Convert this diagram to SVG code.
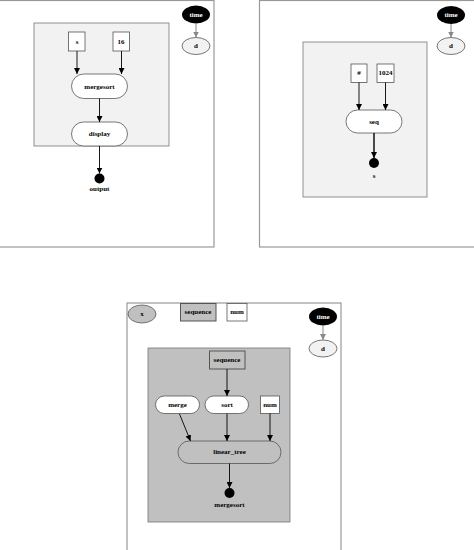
<svg xmlns="http://www.w3.org/2000/svg" width="474" height="550" viewBox="0 0 474 550">
<defs>
<marker id="ah" viewBox="0 0 10 10" refX="10" refY="5" markerWidth="6" markerHeight="6" orient="auto" markerUnits="userSpaceOnUse"><path d="M0,0 L10,5 L0,10 Z" fill="#000"/></marker>
<marker id="ahg" viewBox="0 0 10 10" refX="10" refY="5" markerWidth="6" markerHeight="6" orient="auto" markerUnits="userSpaceOnUse"><path d="M0,0 L10,5 L0,10 Z" fill="#888"/></marker>
</defs>
<style>
text{font-family:"Liberation Serif","DejaVu Serif",serif;font-size:7px;font-weight:bold;text-anchor:middle;dominant-baseline:central;fill:#000}
.frame{fill:#fff;stroke:#999;stroke-width:1.2}
.clu{fill:#f2f2f2;stroke:#777;stroke-width:0.8}
.clu2{fill:#c0c0c0;stroke:#777;stroke-width:0.8}
.box{fill:#fff;stroke:#555;stroke-width:0.8}
.gbox{fill:#c0c0c0;stroke:#555;stroke-width:1}
.pill{fill:#fff;stroke:#555;stroke-width:0.8}
.gpill{fill:#c0c0c0;stroke:#555;stroke-width:0.8}
.time{fill:#000}
.wt{fill:#fff}
.d{fill:#f2f2f2;stroke:#555;stroke-width:0.8}
.e{stroke:#000;stroke-width:0.9;fill:none;marker-end:url(#ah)}
.eg{stroke:#888;stroke-width:1;fill:none;marker-end:url(#ahg)}
</style>
<rect x="0" y="0" width="474" height="550" fill="#fff"/>
<!-- Panel 1 -->
<g id="panel1">
<rect class="frame" x="-1" y="0.5" width="215" height="246.5"/>
<rect class="clu" x="34" y="23" width="135" height="123"/>
</g>
<g id="p1_s"><rect class="box" x="68.5" y="32" width="16.5" height="19"/><text x="77" y="42">s</text></g>
<g id="p1_16"><rect class="box" x="113" y="32" width="16.5" height="19"/><text x="121" y="42">16</text></g>
<g id="p1_mergesort"><rect class="pill" x="71.5" y="74" width="56" height="24.5" rx="12.25"/><text x="99.5" y="86.5">mergesort</text></g>
<g id="p1_display"><rect class="pill" x="71.5" y="122" width="56" height="24" rx="12"/><text x="99.5" y="134">display</text></g>
<g id="p1_output"><circle cx="99.5" cy="178.5" r="5" fill="#000"/><text x="99.5" y="188.5">output</text></g>
<g id="p1_time"><ellipse class="time" cx="196" cy="14.5" rx="14" ry="9"/><text class="wt" x="196" y="14.5">time</text></g>
<g id="p1_d"><ellipse class="d" cx="196" cy="46" rx="14" ry="8.5"/><text x="196" y="46">d</text></g>
<!-- Panel 2 -->
<g id="panel2">
<rect class="frame" x="259.5" y="0.5" width="216" height="246.5"/>
<rect class="clu" x="303" y="42" width="124" height="155"/>
</g>
<g id="p2_hash"><rect class="box" x="351" y="64" width="16" height="18.5"/><text x="359" y="73">#</text></g>
<g id="p2_1024"><rect class="box" x="377" y="64" width="17" height="18.5"/><text x="385.5" y="73">1024</text></g>
<g id="p2_seq"><rect class="pill" x="346" y="110" width="56" height="23" rx="11.5"/><text x="374" y="121.5">seq</text></g>
<g id="p2_s"><circle cx="374" cy="163" r="5" fill="#000"/><text x="374" y="176">s</text></g>
<g id="p2_time"><ellipse class="time" cx="451" cy="15" rx="14" ry="9"/><text class="wt" x="451" y="15">time</text></g>
<g id="p2_d"><ellipse class="d" cx="451" cy="46" rx="14" ry="8.5"/><text x="451" y="46">d</text></g>
<!-- Panel 3 -->
<g id="panel3">
<rect class="frame" x="127" y="303" width="214" height="249"/>
<rect class="clu2" x="148" y="348" width="142" height="174"/>
</g>
<g id="p3_x"><ellipse class="gpill" cx="142" cy="314" rx="14" ry="9"/><text x="142" y="314">x</text></g>
<g id="p3_sequence_top"><rect class="gbox" x="180.5" y="303.5" width="35.5" height="17.5"/><text x="198" y="312">sequence</text></g>
<g id="p3_num_top"><rect class="box" x="227" y="303.5" width="20" height="17.5"/><text x="237" y="312">num</text></g>
<g id="p3_time"><ellipse class="time" cx="323" cy="316.5" rx="14" ry="9"/><text class="wt" x="323" y="316.5">time</text></g>
<g id="p3_d"><ellipse class="d" cx="323" cy="348.5" rx="14" ry="8.5"/><text x="323" y="348.5">d</text></g>
<g id="p3_sequence"><rect class="gbox" x="209.5" y="351" width="35.5" height="18" /><text x="227" y="360">sequence</text></g>
<g id="p3_merge"><rect class="pill" x="155.5" y="396" width="44" height="17.5" rx="8.75"/><text x="177.5" y="405">merge</text></g>
<g id="p3_sort"><rect class="pill" x="205" y="396" width="43.5" height="17.5" rx="8.75"/><text x="227" y="405">sort</text></g>
<g id="p3_num"><rect class="box" x="260.5" y="396" width="19" height="17.5"/><text x="270" y="405">num</text></g>
<g id="p3_linear_tree"><rect class="gpill" x="178" y="441" width="103" height="22.5" rx="11.25"/><text x="229.5" y="452">linear_tree</text></g>
<g id="p3_mergesort"><circle cx="229.5" cy="493" r="5" fill="#000"/><text x="229.5" y="505">mergesort</text></g>
<!-- Connectors -->
<g id="connectors">
<path class="e" d="M77,51 V74"/>
<path class="e" d="M121.5,51 V74"/>
<path class="e" d="M99.5,98.5 V122"/>
<path class="e" d="M99.5,146 V173.5"/>
<path class="eg" d="M196,23.5 V37.5"/>
<path class="e" d="M359,82.5 V110"/>
<path class="e" d="M385.5,82.5 V110"/>
<path class="e" d="M374,133 V158" style="stroke-width:1.4"/>
<path class="eg" d="M451,24 V37.5"/>
<path class="eg" d="M323,325.5 V340"/>
<path class="e" d="M227,369 V396"/>
<path class="e" d="M179.5,414 L190.5,441"/>
<path class="e" d="M227,413.5 V441"/>
<path class="e" d="M270,413.5 V441"/>
<path class="e" d="M229.5,463.5 V488"/>
</g>
</svg>
